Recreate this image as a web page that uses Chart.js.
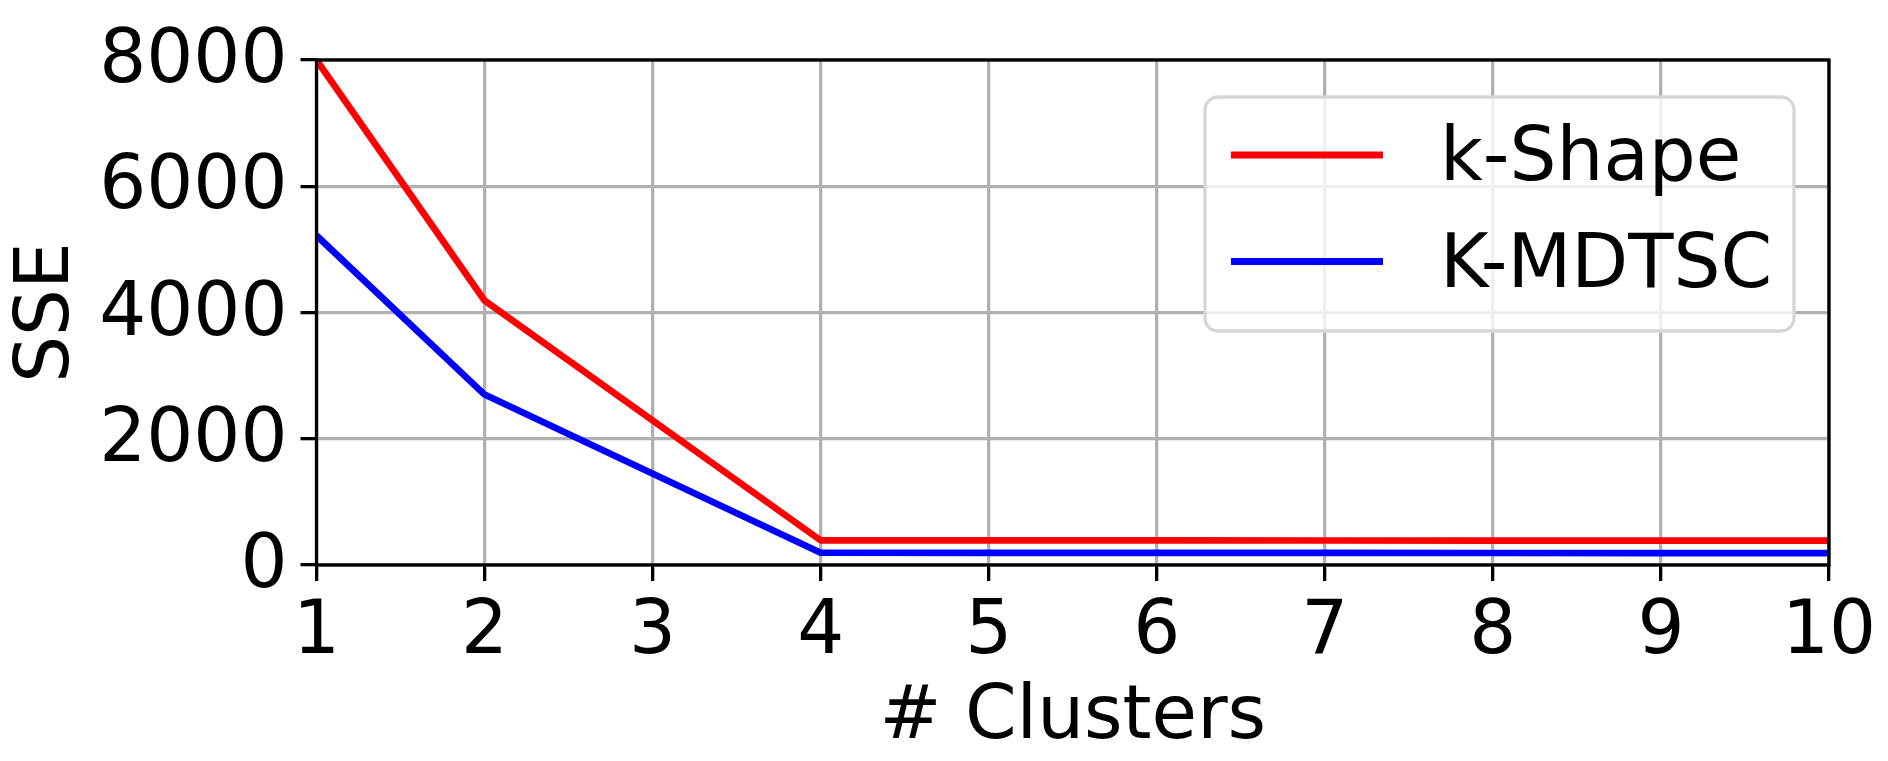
<!DOCTYPE html>
<html>
<head>
<meta charset="utf-8">
<script src="https://cdn.jsdelivr.net/npm/chart.js@4/dist/chart.umd.min.js"></script>
<style>
  html, body { margin: 0; padding: 0; background: #fff; }
  #wrap { width: 1888px; height: 761px; }
</style>
</head>
<body>
<div id="wrap"><canvas id="chart" width="1888" height="761"></canvas></div>
<script>
// data
const clusters = [1, 2, 4, 5, 6, 7, 8, 9, 10];
const kShapeSSE = [8000, 4190, 390, 390, 390, 388, 386, 386, 385];
const kMdtscSSE = [5220, 2700, 195, 193, 192, 191, 190, 189, 188];
const seriesNames = ['k-Shape', 'K-MDTSC'];
const seriesColors = ['#ff0000', '#0000ff'];

const FONT = 'DejaVu Sans';
const FS = 74;

const toPoints = (ys) => clusters.map((x, i) => ({ x: x, y: ys[i] }));

// frame (all four spines) drawn over the lines
const framePlugin = {
  id: 'frame',
  afterDatasetsDraw(chart) {
    const { ctx, chartArea: a } = chart;
    ctx.save();
    ctx.strokeStyle = '#000';
    ctx.lineWidth = 3.3;
    ctx.strokeRect(a.left, a.top, a.right - a.left, a.bottom - a.top);
    ctx.restore();
  }
};

// legend inside the plot, upper right, semi-transparent like matplotlib
const legendBoxPlugin = {
  id: 'legendBox',
  afterDraw(chart) {
    const { ctx, chartArea: a } = chart;
    const boxW = 589, boxH = 234;
    const x0 = a.right - 35 - boxW;
    const y0 = a.top + 37;
    ctx.save();
    ctx.beginPath();
    ctx.roundRect(x0, y0, boxW, boxH, 13);
    ctx.fillStyle = 'rgba(255,255,255,0.8)';
    ctx.fill();
    ctx.lineWidth = 3.3;
    ctx.strokeStyle = '#d6d6d6';
    ctx.stroke();

    ctx.font = FS + 'px "' + FONT + '"';
    ctx.textBaseline = 'alphabetic';
    ctx.textAlign = 'left';
    chart.data.datasets.forEach((ds, i) => {
      const rowY = y0 + 58 + i * 106.6;
      ctx.beginPath();
      ctx.moveTo(x0 + 26, rowY);
      ctx.lineTo(x0 + 178, rowY);
      ctx.strokeStyle = ds.borderColor;
      ctx.lineWidth = 7;
      ctx.stroke();
      ctx.fillStyle = '#000';
      ctx.fillText(ds.label, x0 + 235, rowY + 25.3);
    });
    ctx.restore();
  }
};

Chart.defaults.font.family = FONT;
Chart.defaults.color = '#000';

const gridConfig = {
  color: '#b0b0b0',
  lineWidth: 3.3,
  tickColor: '#000',
  tickWidth: 3.3,
  tickLength: 16,
  drawTicks: true
};

new Chart(document.getElementById('chart'), {
  type: 'line',
  data: {
    datasets: [
      {
        label: seriesNames[0],
        data: toPoints(kShapeSSE),
        borderColor: seriesColors[0],
        backgroundColor: seriesColors[0],
        borderWidth: 6.7,
        pointRadius: 0,
        tension: 0,
        borderJoinStyle: 'round',
        fill: false
      },
      {
        label: seriesNames[1],
        data: toPoints(kMdtscSSE),
        borderColor: seriesColors[1],
        backgroundColor: seriesColors[1],
        borderWidth: 6.7,
        pointRadius: 0,
        tension: 0,
        borderJoinStyle: 'round',
        fill: false
      }
    ]
  },
  options: {
    responsive: false,
    animation: false,
    devicePixelRatio: 1,
    layout: { padding: { left: 0, right: 59, top: 60, bottom: 0 } },
    plugins: {
      legend: { display: false },
      tooltip: { enabled: false }
    },
    scales: {
      x: {
        type: 'linear',
        min: 1,
        max: 10,
        grid: gridConfig,
        border: { display: false },
        ticks: {
          stepSize: 1,
          autoSkip: false,
          maxRotation: 0,
          padding: 16,
          font: { size: FS, lineHeight: 1 },
          callback: (value) => String(value)
        },
        title: {
          display: true,
          text: '# Clusters',
          font: { size: FS, lineHeight: 1 },
          padding: { top: 0, bottom: 5 }
        },
        afterFit(scale) {
          scale.height = 196;
          scale.paddingLeft = 0;
          scale.paddingRight = 0;
        }
      },
      y: {
        type: 'linear',
        min: 0,
        max: 8000,
        grid: gridConfig,
        border: { display: false },
        ticks: {
          stepSize: 2000,
          padding: 13,
          labelOffset: 3,
          font: { size: FS, lineHeight: 1.2 },
          callback: (value) => String(value)
        },
        title: {
          display: true,
          text: 'SSE',
          font: { size: FS, lineHeight: 1 },
          padding: { top: 12, bottom: 0 }
        },
        afterFit(scale) {
          scale.width = 316.5;
          scale.paddingTop = 0;
          scale.paddingBottom = 0;
        }
      }
    }
  },
  plugins: [framePlugin, legendBoxPlugin]
});
</script>
</body>
</html>
